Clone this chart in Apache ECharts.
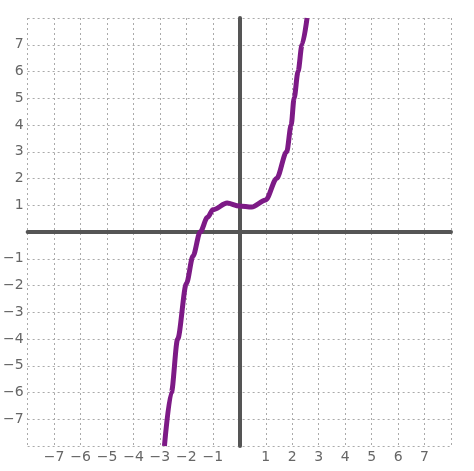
<!DOCTYPE html>
<html><head><meta charset="utf-8">
<script src="https://cdn.jsdelivr.net/npm/echarts@6/dist/echarts.min.js"></script>
<style>html,body{margin:0;padding:0;background:#fff}#c{width:474px;height:471px}</style>
</head><body><div id="c"></div>
<script>
const curveX = [-2.83,-2.57,-2.33,-2.0,-1.75,-1.48,-1.2,-1.0,-0.46,0,0.47,1.0,1.41,1.79,1.96,2.07,2.22,2.37,2.56];
const curveY = [-8.0,-6.0,-4.0,-1.93,-0.9,0,0.55,0.83,1.08,0.97,0.93,1.2,2.0,3.0,4.0,5.0,6.0,7.0,8.0];
const tickLabels = [-7,-6,-5,-4,-3,-2,-1,1,2,3,4,5,6,7];

const fmt = v => (tickLabels.includes(Math.round(v)) && Math.abs(v-Math.round(v))<1e-6) ? String(Math.round(v)).replace('-', '\u2212') : '';
const chart = echarts.init(document.getElementById('c'));
chart.setOption({
  animation:false,
  grid:{left:23,right:23,top:18,bottom:25},
  xAxis:{type:'value',min:-8,max:8,interval:1,
    axisLine:{onZero:true,lineStyle:{color:'#555',width:4}},
    axisTick:{show:false},
    axisLabel:{formatter:fmt,color:'#666',fontSize:14,fontFamily:'DejaVu Sans',margin:4},
    splitLine:{show:true,lineStyle:{type:[2,3],color:'#aaa',width:1}}},
  yAxis:{type:'value',min:-8,max:8,interval:1,
    axisLine:{onZero:true,lineStyle:{color:'#555',width:4}},
    axisTick:{show:false},
    axisLabel:{formatter:fmt,color:'#666',fontSize:14,fontFamily:'DejaVu Sans',margin:4},
    splitLine:{show:true,lineStyle:{type:[2,3],color:'#aaa',width:1}}},
  series:[{type:'line',smooth:0.3,smoothMonotone:'x',symbol:'none',data:curveX.map((x,i)=>[x,curveY[i]]),
    lineStyle:{color:'#7d1a86',width:5}}]
});
</script></body></html>
